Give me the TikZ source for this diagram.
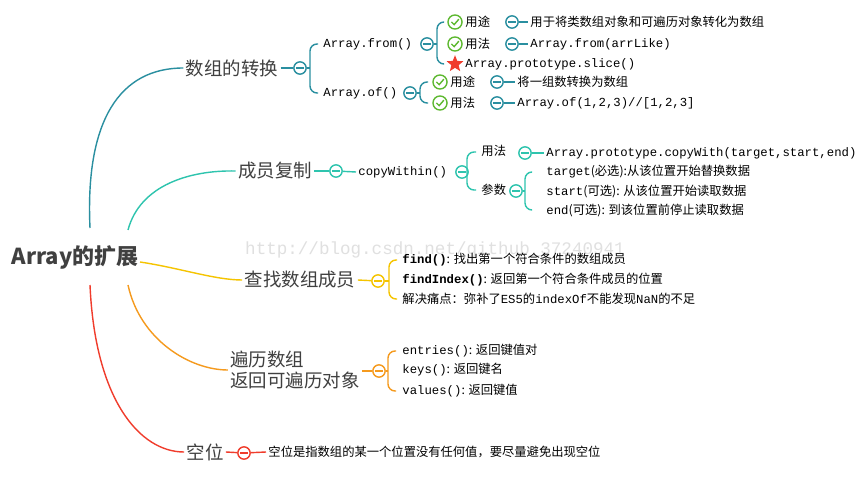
\documentclass[tikz,border=0pt]{standalone}
\usepackage{fontspec}
\setmainfont{Noto Sans CJK SC}
\setmonofont{Liberation Mono}
\usetikzlibrary{shapes.geometric}

\definecolor{tealb}{HTML}{2A8FA0}
\definecolor{turq}{HTML}{2EC4AE}
\definecolor{yel}{HTML}{F5C400}
\definecolor{ora}{HTML}{F59A1E}
\definecolor{redb}{HTML}{F03C2C}
\definecolor{okgreen}{HTML}{5CB82E}

\tikzset{
	fold/.style={circle, draw=#1, thick, inner sep=0pt, minimum size=7pt,
		path picture={\draw[#1, thick] ([xshift=-2pt]path picture bounding box.center) -- ([xshift=2pt]path picture bounding box.center);}},
	leaf/.style={anchor=west, inner sep=1pt, font=\fontsize{7}{8}\selectfont},
	branch/.style={anchor=center, inner sep=1pt, font=\fontsize{10.5}{12}\selectfont, text=black!75},
	okmark/.style={circle, draw=okgreen, thick, inner sep=0pt, minimum size=8pt,
		path picture={\draw[okgreen, thick] ([shift={(-2pt,0pt)}]path picture bounding box.center) -- ([shift={(-0.5pt,-1.5pt)}]path picture bounding box.center) -- ([shift={(2.2pt,1.6pt)}]path picture bounding box.center);}},
}

\begin{document}
\begin{tikzpicture}[x=0.02cm, y=-0.02cm, line width=0.8pt]

	\useasboundingbox (0,0) rectangle (861,479);
	\fill[white] (0,0) rectangle (861,479);

	% watermark
	\node[text=black!12, font=\ttfamily\fontsize{10}{12}\selectfont] (wm) at (435,250) {http://blog.csdn.net/github\_37240941};

	% root
	\node[font=\fontsize{12.5}{14}\selectfont\bfseries, text=black!75] (root) at (75,257) {Array的扩展};

	% main branches
	\node[branch] (conv) at (232,68) {数组的转换};
	\node[branch] (copy) at (275,171) {成员复制};
	\node[branch] (find) at (300,280) {查找数组成员};
	\node[branch, align=left] (iter) at (295,370) {遍历数组\\返回可遍历对象};
	\node[branch] (hole) at (205,452) {空位};

	\draw[tealb] (90,228) .. controls (85,120) and (120,68) .. (conv.west);
	\draw[turq] (128,230) .. controls (140,185) and (190,170) .. (copy.west);
	\draw[yel] (140,262) .. controls (180,268) and (215,280) .. (find.west);
	\draw[ora] (128,285) .. controls (140,340) and (190,370) .. (iter.west);
	\draw[redb] (90,285) .. controls (95,400) and (140,452) .. (hole.west);

	% 数组的转换
	\node[fold=tealb] (c0) at (300,68) {};
	\draw[tealb] (conv.east) -- (c0);
	\draw[tealb, rounded corners=4] (318,44) -- (310,44) -- (310,93) -- (318,93);
	\draw[tealb] (c0) -- (310,68);
	\node[leaf, font=\ttfamily\fontsize{7}{8}\selectfont] (from) at (321,44) {Array.from()};
	\node[leaf, font=\ttfamily\fontsize{7}{8}\selectfont] (of) at (321,93) {Array.of()};
	\node[fold=tealb] (c1) at (427,44) {};
	\node[fold=tealb] (c2) at (410,93) {};
	\draw[tealb, rounded corners=4] (444,22) -- (437,22) -- (437,64) -- (444,64);
	\draw[tealb] (c1) -- (437,44);
	\draw[tealb, rounded corners=4] (428,82) -- (420,82) -- (420,103) -- (428,103);
	\draw[tealb] (c2) -- (420,93);

	\node[okmark] (k1) at (455,22) {};
	\node[leaf] (u1) at (463,22) {用途};
	\node[okmark] (k2) at (455,44) {};
	\node[leaf] (u2) at (463,44) {用法};
	\node[star, star points=5, star point ratio=2.3, fill=redb, inner sep=0pt, minimum size=10pt] (s1) at (455,64) {};
	\node[leaf, font=\ttfamily\fontsize{7}{8}\selectfont] (u3) at (463,64) {Array.prototype.slice()};
	\node[fold=tealb] (c3) at (512,22) {};
	\node[fold=tealb] (c4) at (512,44) {};
	\node[leaf] (t1) at (528,22) {用于将类数组对象和可遍历对象转化为数组};
	\node[leaf, font=\ttfamily\fontsize{7}{8}\selectfont] (t2) at (528,44) {Array.from(arrLike)};
	\draw[tealb] (c3) -- (t1.west);
	\draw[tealb] (c4) -- (t2.west);

	\node[okmark] (k3) at (440,82) {};
	\node[leaf] (u4) at (448,82) {用途};
	\node[okmark] (k4) at (440,103) {};
	\node[leaf] (u5) at (448,103) {用法};
	\node[fold=tealb] (c5) at (497,82) {};
	\node[fold=tealb] (c6) at (497,103) {};
	\node[leaf] (t3) at (515,82) {将一组数转换为数组};
	\node[leaf, font=\ttfamily\fontsize{7}{8}\selectfont] (t4) at (515,103) {Array.of(1,2,3)//[1,2,3]};
	\draw[tealb] (c5) -- (t3.west);
	\draw[tealb] (c6) -- (t4.west);

	% 成员复制
	\node[fold=turq] (d0) at (336,171) {};
	\draw[turq] (copy.east) -- (d0);
	\node[leaf, font=\ttfamily\fontsize{7}{8}\selectfont] (cw) at (356,172) {copyWithin()};
	\draw[turq] (d0) -- (cw.west);
	\node[fold=turq] (d1) at (462,172) {};
	\draw[turq, rounded corners=4] (476,152) -- (467,152) -- (467,190) -- (476,190);
	\node[leaf] (y1) at (479,151) {用法};
	\node[leaf] (y2) at (479,190) {参数};
	\node[fold=turq] (d2) at (525,153) {};
	\node[leaf, font=\ttfamily\fontsize{7}{8}\selectfont] (y3) at (544,153) {Array.prototype.copyWith(target,start,end)};
	\draw[turq] (d2) -- (y3.west);
	\node[fold=turq] (d3) at (516,191) {};
	\draw[turq, rounded corners=4] (532,172) -- (525,172) -- (525,210) -- (532,210);
	\draw[turq] (d3) -- (525,191);
	\node[leaf] (p1) at (544,172) {\ttfamily target\rmfamily(必选):从该位置开始替换数据};
	\node[leaf] (p2) at (544,191) {\ttfamily start\rmfamily(可选): 从该位置开始读取数据};
	\node[leaf] (p3) at (544,210) {\ttfamily end\rmfamily(可选): 到该位置前停止读取数据};

	% 查找数组成员
	\node[fold=yel] (f0) at (378,281) {};
	\draw[yel] (find.east) -- (f0);
	\draw[yel, rounded corners=4] (397,260) -- (389,260) -- (389,299) -- (397,299);
	\draw[yel] (f0) -- (389,281);
	\node[leaf] (q1) at (400,260) {\ttfamily\bfseries find()\rmfamily\mdseries: 找出第一个符合条件的数组成员};
	\node[leaf] (q2) at (400,280) {\ttfamily\bfseries findIndex()\rmfamily\mdseries: 返回第一个符合条件成员的位置};
	\node[leaf] (q3) at (400,299) {解决痛点：弥补了\ttfamily ES5\rmfamily 的\ttfamily indexOf\rmfamily 不能发现\ttfamily NaN\rmfamily 的不足};

	% 遍历数组
	\node[fold=ora] (g0) at (379,371) {};
	\draw[ora] (iter.east |- g0) -- (g0);
	\draw[ora, rounded corners=4] (396,351) -- (388,351) -- (388,391) -- (396,391);
	\draw[ora] (g0) -- (388,371);
	\node[leaf] (e1) at (400,351) {\ttfamily entries()\rmfamily: 返回键值对};
	\node[leaf] (e2) at (400,370) {\ttfamily keys()\rmfamily: 返回键名};
	\node[leaf] (e3) at (400,391) {\ttfamily values()\rmfamily: 返回键值};

	% 空位
	\node[fold=redb] (h0) at (244,453) {};
	\draw[redb] (hole.east) -- (h0);
	\node[leaf] (h1) at (266,452) {空位是指数组的某一个位置没有任何值，要尽量避免出现空位};
	\draw[redb] (h0) -- (h1.west);

\end{tikzpicture}
\end{document}
